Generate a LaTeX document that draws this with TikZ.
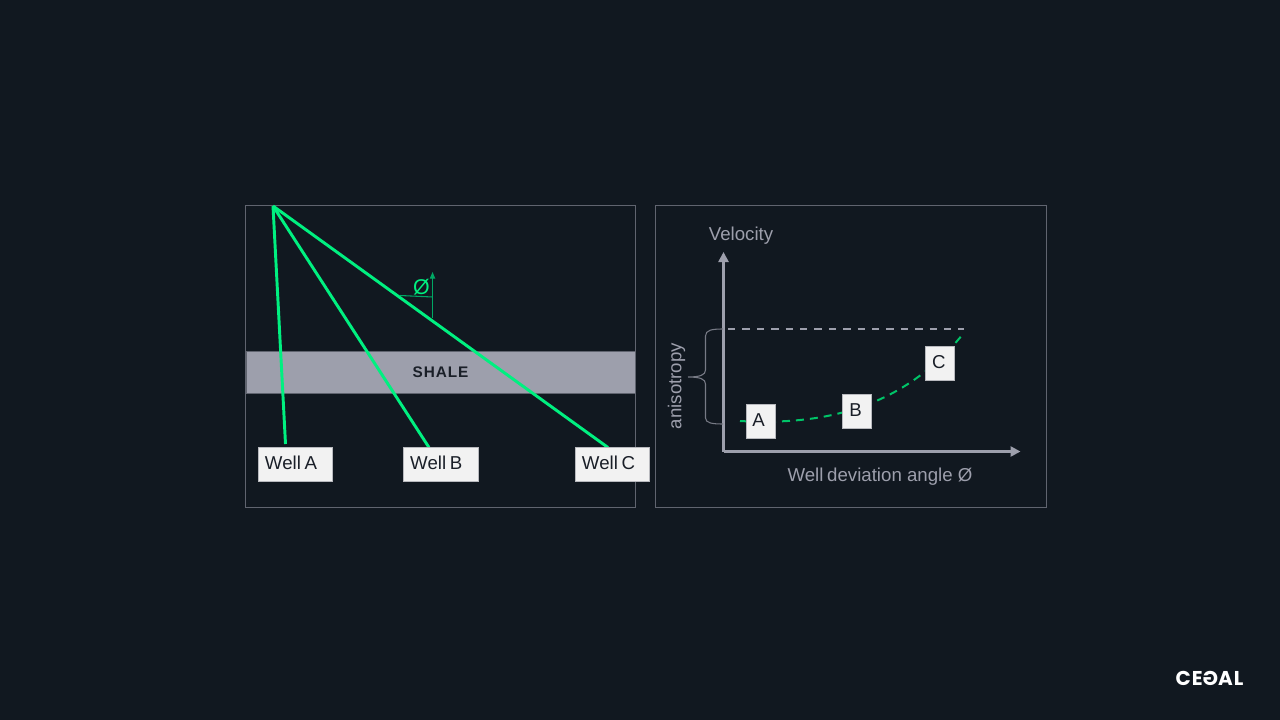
\documentclass[tikz,border=0pt]{standalone}
\usepackage{fontspec}
\setmainfont{Liberation Sans}
\newfontfamily\logofont{Poppins}
\usetikzlibrary{arrows.meta}
\definecolor{slidebg}{HTML}{111820}
\definecolor{wellgreen}{HTML}{00F080}
\definecolor{curvegreen}{HTML}{00C468}
\definecolor{anglegreen}{HTML}{00A864}
\definecolor{framegrey}{HTML}{60646F}
\definecolor{axisgrey}{HTML}{9D9FAC}
\definecolor{bracegrey}{HTML}{777A85}
\definecolor{boxwhite}{HTML}{F2F2F2}
\definecolor{boxedge}{HTML}{B8B9BE}
\definecolor{inkdark}{HTML}{1A1F28}
\tikzset{>=Triangle[]}
\tikzset{
  panel/.style={draw=framegrey,line width=0.75pt},
  well/.style={draw=wellgreen,line width=2.2pt},
  wellbox/.style={fill=boxwhite,draw=boxedge,line width=0.3pt,text=inkdark,font=\fontsize{14}{16}\selectfont,
    text width=45.4pt,align=left,inner xsep=5.25pt,inner ysep=0pt,minimum height=25.5pt},
  pointbox/.style={fill=boxwhite,draw=boxedge,line width=0.3pt,text=inkdark,font=\fontsize{14}{16}\selectfont,
    inner sep=0pt,minimum width=21.5pt,minimum height=25.5pt},
  axislabel/.style={text=axisgrey,font=\fontsize{14}{16}\selectfont,inner sep=0pt},
  axisline/.style={draw=axisgrey,line width=2.2pt,-{Triangle[width=7.5pt,length=7.5pt]}},
}

\begin{document}
\begin{tikzpicture}[x=0.75pt,y=-0.75pt]
  \fill[slidebg] (0,0) rectangle (1280,720);

  % panels
  \draw[panel] (245.5,206) rectangle (635.5,507);
  \draw[panel] (655.5,206) rectangle (1046.5,507);

  % shale layer
  \node[fill=axisgrey,draw=framegrey,line width=0.5pt,minimum width=291.75pt,minimum height=31.5pt,inner sep=0pt,
    text=inkdark,font=\fontsize{11.5}{13}\selectfont\bfseries\addfontfeature{LetterSpace=6}](shale) at (440.5,372) {SHALE};

  % wells
  \coordinate (top) at (273,206);
  \foreach \w/\x/\y/\xend/\yend in {A/295.25/464/285.5/444, B/440.5/464.5/429/447.5, C/612.25/464/608/447.5} {
    \coordinate (end\w) at (\xend,\yend);
    \draw[well] (top) -- (end\w);
    \node[wellbox](well\w) at (\x,\y) {\raisebox{2.4pt}{Well\hspace{0.2em}\w}};
  }

  % deviation angle
  \coordinate (vbase) at (432.5,318);
  \coordinate (vtip) at (432.5,272);
  \coordinate (hleft) at (400,295.5);
  \coordinate (hright) at (432.5,297);
  \draw[-{Triangle[width=4pt,length=5pt]},anglegreen,line width=0.8pt] (vbase) -- (vtip);
  \draw[anglegreen,line width=0.8pt] (hleft) -- (hright);
  \node[text=wellgreen,font=\fontsize{16}{18}\selectfont,inner sep=0pt](phi) at (421.5,287) {Ø};

  % axes
  \coordinate (origin) at (723.5,451.5);
  \coordinate (ytip) at (723.5,252);
  \coordinate (xtip) at (1020.5,451.5);
  \draw[axisline] (origin) -- (ytip);
  \draw[axisline] (origin) -- (xtip);
  \node[axislabel](velocity) at (741,236) {Velocity};
  \node[axislabel](angle) at (880,477) {Well\hspace{0.2em}deviation angle Ø};
  \node[axislabel,rotate=90](aniso) at (676.5,386) {anisotropy};

  % anisotropy level
  \coordinate (levelA) at (728,329);
  \coordinate (levelB) at (964,329);
  \draw[draw=axisgrey,dash pattern=on 5.6pt off 5.2pt,line width=1.6pt] (levelA) -- (levelB);

  % brace
  \coordinate (bracetop) at (723,329);
  \coordinate (bracebot) at (723,424);
  \coordinate (bracetip) at (688,377);
  \draw[bracegrey,line width=0.8pt] (bracetop) .. controls (712,329) and (705.5,330) .. (705.5,336)
    -- (705.5,370) .. controls (705.5,375) and (700,377) .. (bracetip)
    (bracetip) .. controls (700,377) and (705.5,379) .. (705.5,384)
    -- (705.5,418) .. controls (705.5,423) and (712,424) .. (bracebot);

  % velocity curve
  \coordinate (curveA) at (740,421);
  \coordinate (curveB) at (963,334);
  \draw[curvegreen,dash pattern=on 6pt off 4.5pt,line width=1.5pt] (curveA) .. controls (830,426) and (905,405) .. (curveB);

  \foreach \p/\x/\y/\dx in {A/761/421.25/3.8, B/857/411.5/2.2, C/939.75/363.25/1.5} {
    \node[pointbox](pt\p) at (\x,\y) {\raisebox{2pt}{\p}\kern\dx pt};
  }

  % logo
  \node[text=white,font=\logofont\bfseries\fontsize{15}{17}\selectfont\addfontfeature{LetterSpace=5},inner sep=0pt](logo) at (1209.5,678) {CE\reflectbox{G}AL};
\end{tikzpicture}
\end{document}
